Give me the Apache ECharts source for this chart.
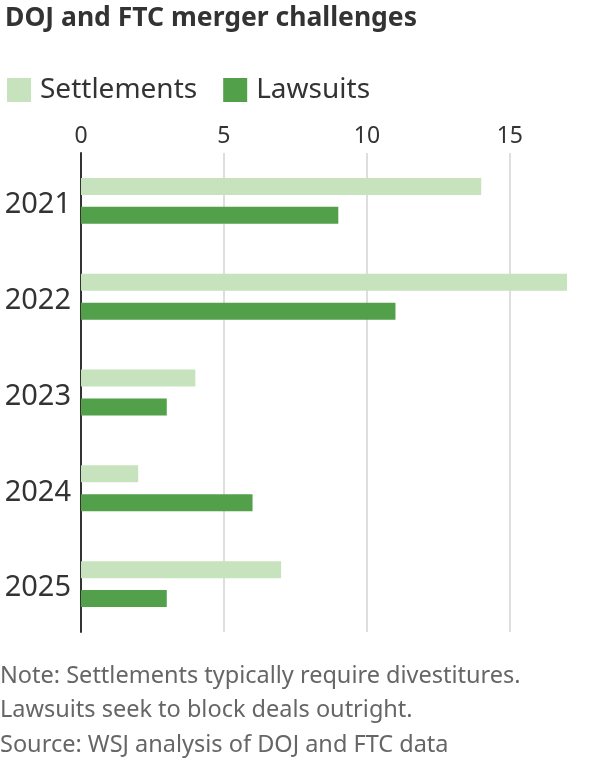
<!DOCTYPE html>
<html>
<head>
<meta charset="utf-8">
<script src="https://cdn.jsdelivr.net/npm/echarts@6/dist/echarts.min.js"></script>
<style>
  html, body { margin: 0; padding: 0; background: #fff; }
  #chart { width: 600px; height: 760px; }
</style>
</head>
<body>
<div id="chart"></div>
<script>
var years = ['2021', '2022', '2023', '2024', '2025'];
var settlements = [14, 17, 4, 2, 7];
var lawsuits = [9, 11, 3, 6, 3];
var xTicks = [0, 5, 10, 15];

var font = '"Noto Sans", "Open Sans", sans-serif';
var myChart = echarts.init(document.getElementById('chart'));

var option = {
    animation: false,
    textStyle: { fontFamily: font },
    title: {
        text: 'DOJ and FTC merger challenges',
        left: 0,
        top: 0,
        textStyle: { fontFamily: font, fontSize: 26.5, fontWeight: 'bold', color: '#333' }
    },
    legend: {
        left: 2,
        top: 71,
        icon: 'rect',
        itemWidth: 24,
        itemHeight: 24,
        itemGap: 26,
        textStyle: { fontFamily: font, fontSize: 28, color: '#333', padding: [0, 0, 0, 4] },
        data: ['Settlements', 'Lawsuits']
    },
    grid: {
        left: 81,
        right: 33,
        top: 153,
        bottom: 128
    },
    xAxis: {
        type: 'value',
        position: 'top',
        min: 0,
        max: 17,
        interval: 5,
        axisLine: { show: false },
        axisTick: { show: false },
        axisLabel: {
            fontFamily: font,
            fontSize: 23,
            color: '#333',
            margin: 5,
            showMaxLabel: false,
            formatter: function (v) { return xTicks.indexOf(v) >= 0 ? String(v) : ''; }
        },
        splitLine: { showMaxLine: false, lineStyle: { color: '#dedede', width: 2 } }
    },
    yAxis: {
        type: 'category',
        inverse: true,
        data: years,
        axisLine: { lineStyle: { color: '#333', width: 2 } },
        axisTick: { show: false },
        axisLabel: {
            margin: 10,
            formatter: function (v) { return '{y|' + v + '}'; },
            rich: {
                y: { fontFamily: font, fontSize: 29, color: '#333', padding: [8, 0, 0, 0] }
            }
        }
    },
    series: [
        {
            name: 'Settlements',
            type: 'bar',
            data: settlements,
            barWidth: 17,
            barGap: '70%',
            itemStyle: { color: '#c6e3bd' }
        },
        {
            name: 'Lawsuits',
            type: 'bar',
            data: lawsuits,
            barWidth: 17,
            barGap: '70%',
            itemStyle: { color: '#52a049' }
        }
    ],
    graphic: [
        {
            type: 'text',
            left: 0,
            top: 659,
            style: {
                text: 'Note: Settlements typically require divestitures.\nLawsuits seek to block deals outright.\nSource: WSJ analysis of DOJ and FTC data',
                fontFamily: font,
                fontSize: 23.5,
                lineHeight: 34.5,
                fill: '#666'
            }
        }
    ]
};

myChart.setOption(option);
</script>
</body>
</html>
